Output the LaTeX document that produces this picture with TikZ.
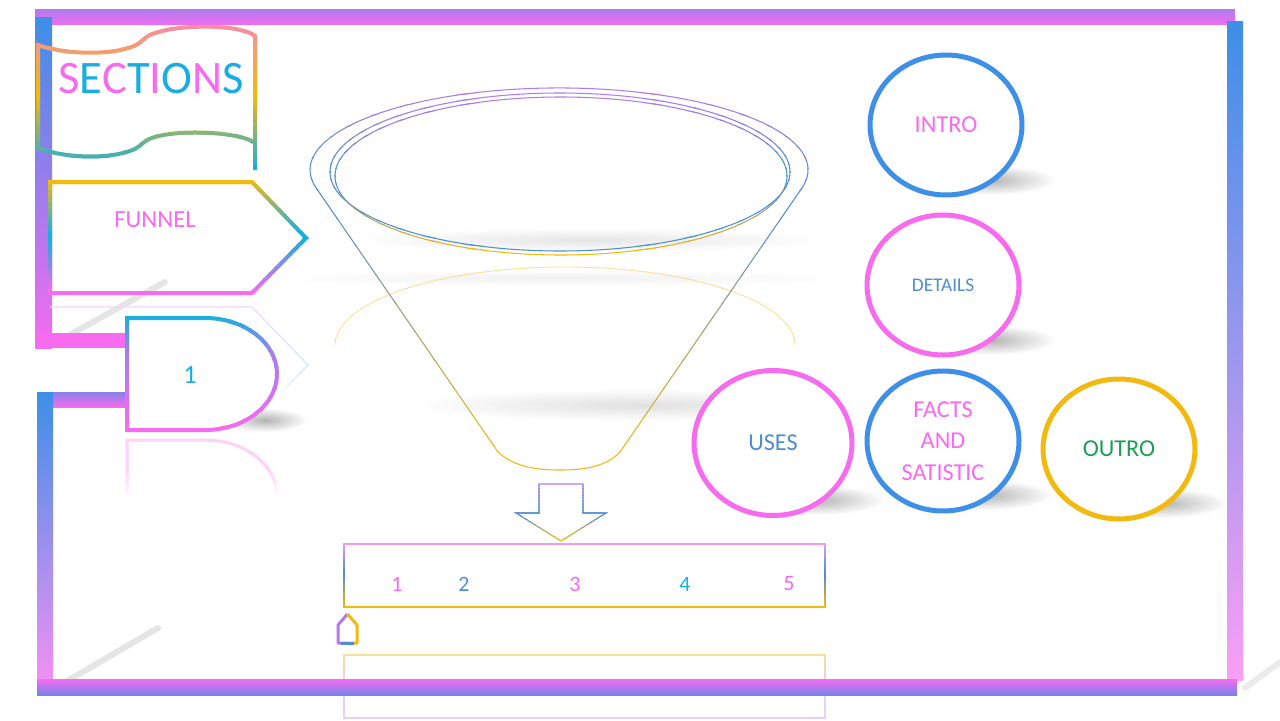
\documentclass[tikz,border=0pt]{standalone}
\usepackage{fontspec}
\setmainfont{Carlito}
\usetikzlibrary{shapes.geometric}
\definecolor{pinkx}{HTML}{F76BEF}
\definecolor{bluex}{HTML}{3D8FE8}
\definecolor{cyanx}{HTML}{1AAEE0}
\definecolor{yelx}{HTML}{F2B90F}
\definecolor{grnx}{HTML}{1E9E55}
\definecolor{vix}{HTML}{B07CEE}
\definecolor{salx}{HTML}{F58FA0}
\definecolor{gx}{HTML}{6DB87A}
\definecolor{funblue}{HTML}{4F8ED2}
\colorlet{paleyel}{yelx!45}
\colorlet{palevi}{vix!35}
\colorlet{palepink}{pinkx!30}
\colorlet{palecyan}{cyanx!25}
\colorlet{softpink}{pinkx!70}

% stroke a path with a vertical colour run: top, middle, bottom
\newcommand{\gstroke}[8]{%
  \foreach \nb in {0,...,9}{%
    \pgfmathsetmacro{\ya}{#2+(#3-#2)*\nb/10-0.3}%
    \pgfmathsetmacro{\yb}{#2+(#3-#2)*(\nb+1)/10+0.3}%
    \pgfmathtruncatemacro{\pc}{100-\nb*100/9}%
    \begin{scope}
      \clip (-10,\ya) rectangle (1290,\yb);
      \draw[#1,draw=#5!\pc!#6] #8;
    \end{scope}
    \pgfmathsetmacro{\ya}{#3+(#4-#3)*\nb/10-0.3}%
    \pgfmathsetmacro{\yb}{#3+(#4-#3)*(\nb+1)/10+0.3}%
    \begin{scope}
      \clip (-10,\ya) rectangle (1290,\yb);
      \draw[#1,draw=#6!\pc!#7] #8;
    \end{scope}
  }%
}

\begin{document}
\begin{tikzpicture}[x=0.02cm, y=-0.02cm,
    sec circle/.style={ellipse, draw, fill=white, line width=0.1cm,
      minimum width=3.04cm, minimum height=2.8cm, inner sep=0pt, align=center},
    shadowx/.style={inner color=black!30, outer color=white},
    big text/.style={font=\fontsize{13.8}{16.5}\selectfont},
    num text/.style={font=\fontsize{12.5}{14}\selectfont}]
  \useasboundingbox (0,0) rectangle (1280,720);
  \fill[white] (0,0) rectangle (1280,720);

  % soft shadows
  \shade[inner color=black!10, outer color=white] (590,240) ellipse (240 and 12);
  \shade[inner color=black!6, outer color=white] (560,278) ellipse (300 and 8);
  \shade[inner color=black!12, outer color=white] (640,405) ellipse (230 and 16);
  \shade[shadowx] (265,420) ellipse (42 and 12);
  \shade[shadowx] (990,180) ellipse (65 and 15);
  \shade[shadowx] (990,340) ellipse (65 and 15);
  \shade[shadowx] (815,500) ellipse (70 and 15);
  \shade[shadowx] (985,495) ellipse (68 and 15);
  \shade[shadowx] (1160,503) ellipse (68 and 15);
  \draw[black!10, line width=0.12cm, line cap=round] (55,688) -- (158,628);
  \draw[black!10, line width=0.12cm, line cap=round] (55,343) -- (165,282);
  \draw[black!8, line width=0.12cm, line cap=round] (1245,688) -- (1280,662);

  % frame
  \shade[top color=vix, middle color=pinkx, bottom color=pinkx!85!vix] (35,9) rectangle (1235,24);
  \shade[top color=bluex, middle color=pinkx, bottom color=pinkx!65] (1227,21) rectangle (1243,680);
  \shade[top color=bluex, middle color=pinkx, bottom color=pinkx] (35,17) rectangle (52,348);
  \fill[pinkx] (35,333) rectangle (127,348);
  \shade[top color=bluex!60!pinkx, bottom color=pinkx] (38,392) rectangle (127,407);
  \shade[top color=bluex, middle color=pinkx, bottom color=pinkx!75] (37,392) rectangle (53,695);

  % sections banner
  \gstroke{line width=0.08cm}{26}{95}{174}{salx}{yelx}{cyanx}{(255,143) .. controls (238,130) and (158,128) .. (143,143) .. controls (128,160) and (68,160) .. (38,148) -- (38,45) .. controls (68,56) and (128,56) .. (143,40) .. controls (156,24) and (238,22) .. (255,36) -- (255,170)}
  \node[font=\fontsize{26.5}{30}\selectfont] (sections) at (151,79)
    {\textcolor{pinkx}{S}\textcolor{cyanx}{E}\textcolor{pinkx}{C}\textcolor{cyanx}{T}\textcolor{pinkx}{I}\textcolor{cyanx}{O}\textcolor{pinkx}{N}\textcolor{cyanx}{S}};

  % funnel arrow and its reflection
  \gstroke{line width=0.6pt}{305}{365}{405}{palepink}{palecyan}{white}{(50,307) -- (252,307) -- (308,365) -- (272,402)}
  \gstroke{line width=0.08cm, line join=miter}{179}{238}{296}{yelx}{cyanx}{pinkx}{(50,182) -- (252,182) -- (306,238) -- (252,293) -- (50,293) -- cycle}
  \node[font=\fontsize{14}{16}\selectfont, text=pinkx] (funnel) at (155,220) {FUNNEL};

  % delay shape
  \gstroke{line width=0.06cm}{438}{470}{500}{palepink}{palepink}{white}{(127,498) -- (127,440) -- (205,440) arc[start angle=-90, end angle=0, x radius=72, y radius=56]}
  \fill[white] (127,318) -- (205,318) arc[start angle=-90, end angle=90, x radius=72, y radius=56] -- (127,430) -- cycle;
  \gstroke{line width=0.08cm}{315}{360}{433}{cyanx}{vix}{pinkx}{(127,318) -- (205,318) arc[start angle=-90, end angle=90, x radius=72, y radius=56] -- (127,430) -- cycle}
  \node[font=\fontsize{15}{17}\selectfont, text=cyanx] (one) at (190,375) {1};

  % funnel
  \draw[paleyel, line width=0.5pt] (335,345) arc[start angle=180, end angle=360, x radius=230, y radius=78];
  \gstroke{line width=0.6pt, line join=round}{83}{190}{473}{vix}{funblue}{yelx}{(315.5,187) arc[start angle=168, end angle=372, x radius=249, y radius=82] -- (620,452) .. controls (605,468) and (580,470) .. (560,470) .. controls (540,470) and (515,468) .. (498,452) -- cycle}
  \gstroke{line width=0.6pt}{92}{172}{253}{vix}{funblue}{funblue}{(560,172) ellipse (230 and 79)}
  \gstroke{line width=0.6pt}{96}{176}{257}{vix}{funblue}{yelx}{(561,176) ellipse (226 and 79)}

  % down arrow
  \gstroke{line width=0.6pt}{483}{513}{542}{vix}{funblue}{yelx}{(539,484) -- (583,484) -- (583,513) -- (606,513) -- (561,541) -- (516,513) -- (539,513) -- cycle}

  % number strip
  \gstroke{line width=0.6pt}{542}{575}{609}{softpink}{funblue}{yelx}{(344,544) rectangle (825,607)}
  \node[num text, text=pinkx] (n1) at (397,584) {1};
  \node[num text, text=funblue] (n2) at (464,584) {2};
  \node[num text, text=pinkx] (n3) at (575,584) {3};
  \node[num text, text=cyanx] (n4) at (685,584) {4};
  \node[num text, text=pinkx] (n5) at (789,584) {5};

  % small house
  \draw[vix, line width=0.06cm, line join=round] (347.5,643) -- (338,643) -- (338,625) -- (347.5,614);
  \draw[yelx, line width=0.06cm, line join=round] (347.5,614) -- (357,625) -- (357,643) -- (347.5,643);
  \draw[funblue, line width=0.06cm] (341,643) -- (354,643);

  % empty strip below
  \gstroke{line width=0.6pt}{653}{686}{720}{paleyel}{palevi}{palevi}{(344,655) rectangle (825,718)}

  % bottom bar
  \shade[top color=pinkx, bottom color=bluex!70!pinkx] (37,679) rectangle (1237,695);

  % circles
  \node[sec circle, draw=bluex] (intro) at (946,125) {};
  \node[big text, text=pinkx] at (intro) {INTRO};
  \node[sec circle, draw=pinkx] (details) at (943,285) {};
  \node[font=\fontsize{11}{12}\selectfont, text=funblue] at (details) {DETAILS};
  \node[sec circle, draw=pinkx, minimum width=3.16cm, minimum height=2.9cm] (uses) at (773,443) {};
  \node[big text, text=funblue] at (uses) {USES};
  \node[sec circle, draw=bluex] (facts) at (943,441) {};
  \node[big text, text=pinkx, align=center] at (facts) {FACTS\\[1.5pt]AND\\[1.5pt]SATISTIC};
  \node[sec circle, draw=yelx] (outro) at (1119,449) {};
  \node[big text, text=grnx] at (outro) {OUTRO};
\end{tikzpicture}
\end{document}
